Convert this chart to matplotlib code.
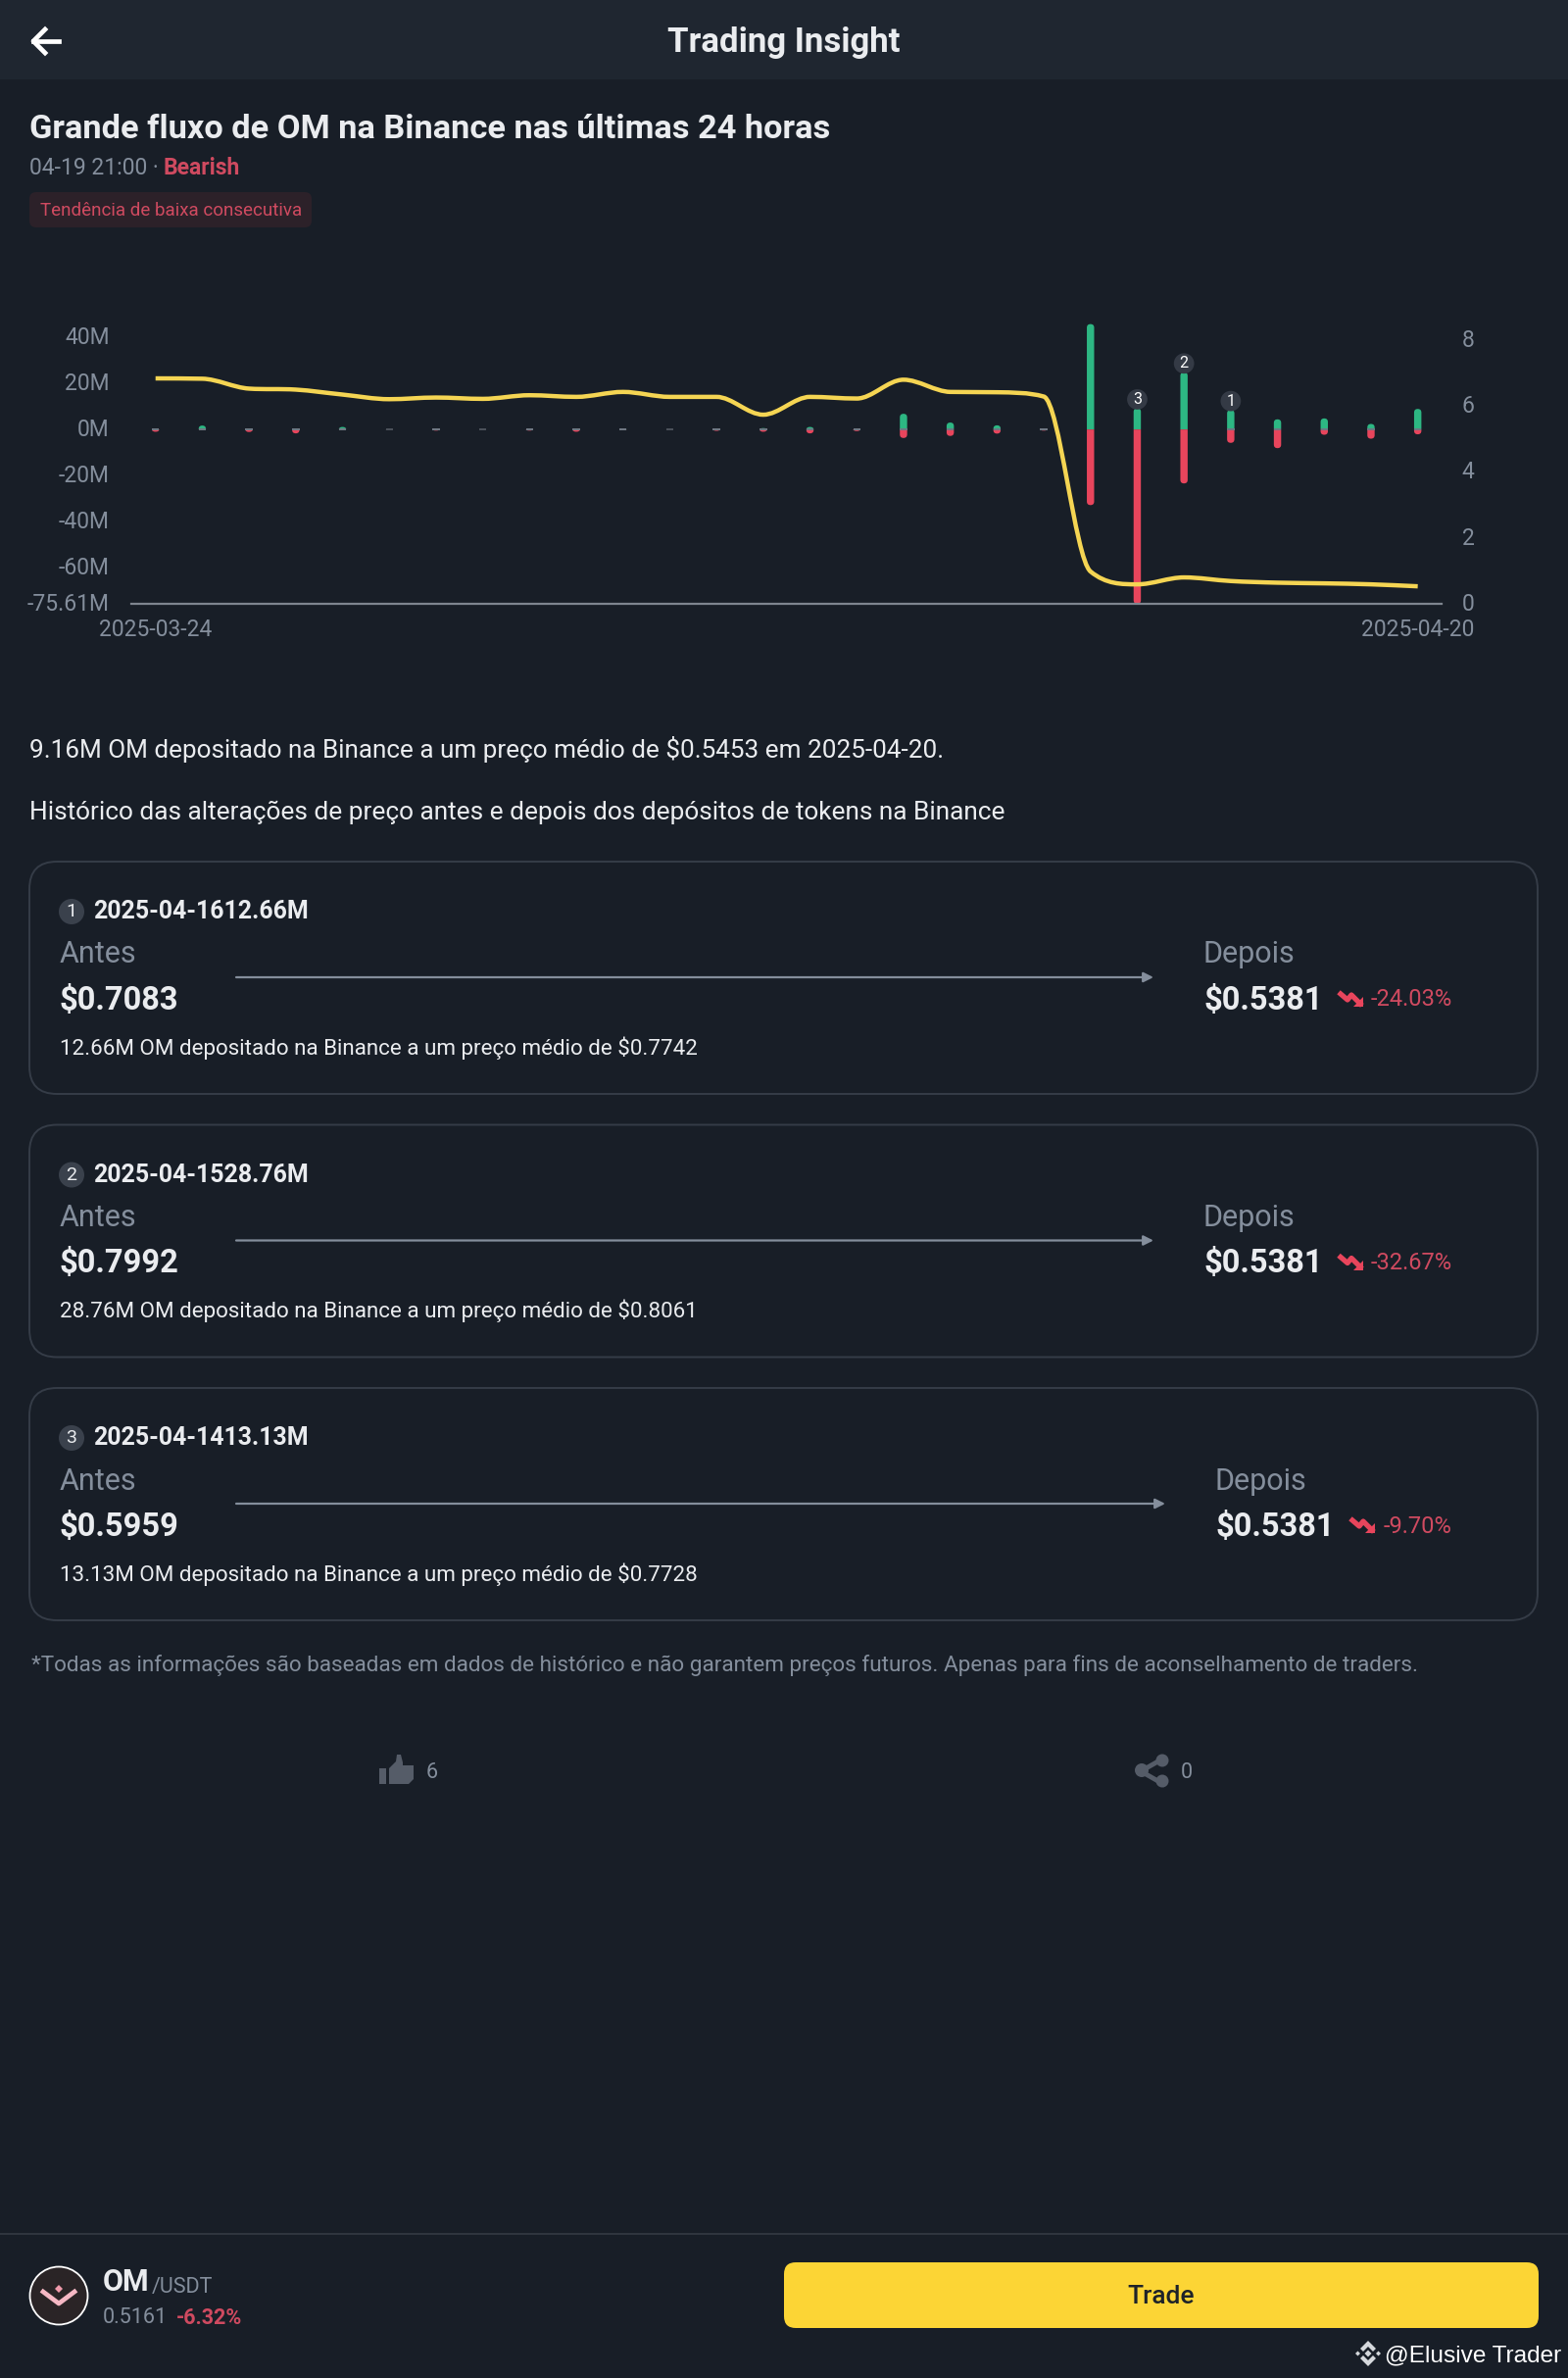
import numpy as np
import matplotlib
matplotlib.use("Agg")
import matplotlib.pyplot as plt
from matplotlib.patches import FancyBboxPatch, Circle, Polygon, PathPatch, FancyArrowPatch
from matplotlib.path import Path
from matplotlib.transforms import ScaledTranslation

plt.rcParams['font.family'] = ['Roboto', 'DejaVu Sans']

# dados (28 dias)
entradas = [0.1, 1.7, 0.2, 0.2, 1.1, 0.2, 0.1, 0.1, 0.1, 0.1, 0.4, 0.2, 0.4, 0.6,
            1.1, 0.2, 6.8, 3.0, 1.8, 0.1, 45.7, 9.2, 24.8, 8.5, 4.4, 4.8, 2.4, 8.9]
saidas = [1.0, 0.2, 1.1, 1.7, 0.2, 0.2, 0.5, 0.1, 0.5, 1.0, 0.3, 0.2, 0.6, 1.0,
          1.7, 0.7, 3.7, 2.8, 1.8, 0.5, 32.8, 75.61, 23.4, 5.8, 8.1, 2.3, 4.0, 2.1]
preco = [6.83, 6.82, 6.52, 6.49, 6.34, 6.20, 6.25, 6.21, 6.32, 6.27, 6.42, 6.27, 6.27, 5.73,
         6.27, 6.22, 6.79, 6.42, 6.41, 6.28, 0.98, 0.59, 0.80, 0.69, 0.64, 0.62, 0.59, 0.53]
ranks = {21: '3', 22: '2', 23: '1'}
yticks_esq = [40, 20, 0, -20, -40, -60, -75.61]
ylabels_esq = ['40M', '20M', '0M', '-20M', '-40M', '-60M', '-75.61M']
yticks_dir = [0, 2, 4, 6, 8]
datas = ['2025-03-24', '2025-04-20']

cards_titulo = ['2025-04-1612.66M', '2025-04-1528.76M', '2025-04-1413.13M']
cards_antes = ['$0.7083', '$0.7992', '$0.5959']
cards_depois = ['$0.5381', '$0.5381', '$0.5381']
cards_pct = ['-24.03%', '-32.67%', '-9.70%']
cards_desc = ['12.66M OM depositado na Binance a um preço médio de $0.7742',
              '28.76M OM depositado na Binance a um preço médio de $0.8061',
              '13.13M OM depositado na Binance a um preço médio de $0.7728']

BG = '#181E27'
HEADER = '#1F2630'
BORDA = '#353C47'
CINZA = '#848E9C'
BRANCO = '#EAECEF'
VERMELHO = '#E8455C'
VERMELHO_TXT = '#CF4A60'
VERDE = '#2DB783'
AMARELO = '#F5D553'

W, H = 1600, 2426
fig = plt.figure(figsize=(W / 100, H / 100), dpi=100, facecolor=BG)

# eixo de fundo em pixels para a parte de interface
ui = fig.add_axes([0, 0, 1, 1])
ui.set_xlim(0, W)
ui.set_ylim(H, 0)
ui.axis('off')


def txt(x, y, s, size, color=BRANCO, weight='normal', ha='left', **kw):
    return ui.text(x, y + 2, s, fontsize=size, color=color, weight=weight, ha=ha, va='center', **kw)


def caixa(x0, y0, x1, y1, r, fc, ec='none', lw=1.0):
    ui.add_patch(FancyBboxPatch((x0 + r, y0 + r), x1 - x0 - 2 * r, y1 - y0 - 2 * r,
                                boxstyle=f'round,pad={r},rounding_size={r}',
                                fc=fc, ec=ec, lw=lw))


def seta_baixa(x, y):
    # icone de tendencia de baixa
    ui.plot([x, x + 7, x + 11, x + 20], [y - 5, y + 1, y - 4, y + 5], color=VERMELHO, lw=3.8)
    ui.add_patch(Polygon([[x + 23, y - 2], [x + 23, y + 8], [x + 13, y + 8]], fc=VERMELHO))


# cabecalho
ui.add_patch(plt.Rectangle((0, 0), W, 81, fc=HEADER))
txt(800, 42, 'Trading Insight', 25, weight='bold', ha='center')
ui.plot([34, 60], [42, 42], color='white', lw=3.4)
ui.plot([46, 34, 46], [30, 42, 54], color='white', lw=3.4)

txt(30, 130, 'Grande fluxo de OM na Binance nas últimas 24 horas', 24.75, weight='bold')
txt(30, 170, '04-19 21:00 ·', 16.5, color=CINZA)
txt(167, 170, 'Bearish', 16.5, color=VERMELHO_TXT, weight='bold')
caixa(30, 196, 318, 232, 7, '#2C2129')
txt(41, 213, 'Tendência de baixa consecutiva', 13.5, color=VERMELHO_TXT)

txt(30, 763, '9.16M OM depositado na Binance a um preço médio de $0.5453 em 2025-04-20.', 18.85)
txt(30, 827, 'Histórico das alterações de preço antes e depois dos depósitos de tokens na Binance', 18.92)

# cards
for i in range(3):
    dy = i * 268.5
    dx = 12 if i == 2 else 0
    caixa(30, 879 + dy, 1569, 1116 + dy, 28, BG, ec=BORDA, lw=1.4)
    ui.add_patch(Circle((73, 930 + dy), 13, fc='#3A414C'))
    txt(73, 928 + dy, str(i + 1), 14, ha='center')
    txt(95, 928 + dy, cards_titulo[i], 17.9, weight='bold')
    txt(61, 972 + dy, 'Antes', 22, color=CINZA)
    txt(61, 1019 + dy, cards_antes[i], 23.5, weight='bold')
    ui.add_patch(FancyArrowPatch((241, 997 + dy), (1177 + dx, 997 + dy), arrowstyle='-|>',
                                 mutation_scale=15, color=CINZA, lw=1.6, shrinkA=0, shrinkB=0))
    txt(1228 + dx, 972 + dy, 'Depois', 22, color=CINZA)
    txt(1228 + dx, 1019 + dy, cards_depois[i], 23.5, weight='bold')
    seta_baixa(1368 + dx, 1019 + dy)
    txt(1482, 1018 + dy, cards_pct[i], 17, color=VERMELHO_TXT, ha='right')
    txt(61, 1067 + dy, cards_desc[i], 16.15)

txt(32, 1697, '*Todas as informações são baseadas em dados de histórico e não garantem preços futuros. '
    'Apenas para fins de aconselhamento de traders.', 16.2, color=CINZA)

# curtir e compartilhar
ICONE = '#555C68'
ui.add_patch(plt.Rectangle((387, 1804), 7, 16, fc=ICONE))
ui.add_patch(Polygon([[397, 1804], [404, 1797], [405, 1790], [409, 1790], [411, 1798], [411, 1801],
                      [422, 1801], [422, 1815], [417, 1820], [397, 1820]], fc=ICONE))
txt(435, 1806, '6', 15.5, color=CINZA)
ui.plot([1187, 1164, 1187], [1794, 1807, 1820], color=ICONE, lw=3.5)
for cx, cy, r in [(1186, 1796, 6.5), (1165, 1806, 7), (1186, 1817, 6.5)]:
    ui.add_patch(Circle((cx, cy), r, fc=ICONE))
txt(1205, 1806, '0', 15.5, color=CINZA)

# rodape
ui.plot([0, W], [2279, 2279], color='#30363F', lw=1.4)
ui.add_patch(Circle((60, 2342), 29.5, fc='#2A2426', ec='white', lw=1.3))
ui.plot([44, 60, 76], [2338, 2350, 2338], color='#F5B8C4', lw=3.4)
ui.add_patch(Polygon([[60, 2331], [64, 2335], [60, 2339], [56, 2335]], fc='#F09AAB'))
txt(105, 2326, 'OM', 22, weight='bold')
txt(155, 2331, '/USDT', 15.5, color=CINZA)
txt(105, 2363, '0.5161', 15.5, color=CINZA)
txt(180, 2363, '-6.32%', 15.5, color=VERMELHO_TXT, weight='bold')
caixa(800, 2308, 1570, 2375, 12, '#FCD535')
txt(1185, 2341, 'Trade', 19, color='#1E2329', weight='medium', ha='center')

# marca d'agua
cx, cy = 1396, 2401
cor_logo = '#D5D8DC'
for sinal in [1, -1]:
    ui.add_patch(Polygon([[cx, cy - 13 * sinal], [cx + 8, cy - 5 * sinal], [cx + 5, cy - 2 * sinal],
                          [cx, cy - 7 * sinal], [cx - 5, cy - 2 * sinal], [cx - 8, cy - 5 * sinal]], fc=cor_logo))
for mx, r in [(cx - 10.5, 2.5), (cx, 3.5), (cx + 10.5, 2.5)]:
    ui.add_patch(Polygon([[mx, cy - r], [mx + r, cy], [mx, cy + r], [mx - r, cy]], fc=cor_logo))
ui.text(1413, 2403, '@Elusive Trader', fontsize=17.6, color='white', family='Liberation Sans', va='center')

# grafico: posicao em pixels
x0_px, x1_px, base_px, topo_px = 134, 1471, 616, 330
ax = fig.add_axes([x0_px / W, 1 - base_px / H, (x1_px - x0_px) / W, (base_px - topo_px) / H])
ax.patch.set_alpha(0)
ax.set_xlim(-0.518, 27.51)
ax.set_ylim(-75.61, 45.97)
for lado in ['top', 'left', 'right']:
    ax.spines[lado].set_visible(False)
ax.spines['bottom'].set_color('#7E858F')
ax.spines['bottom'].set_linewidth(1.6)
ax.set_yticks(yticks_esq, ylabels_esq)
ax.set_xticks([0, len(preco) - 1], datas)
ax.tick_params(axis='y', length=0, pad=16, labelsize=16.5, labelcolor=CINZA)
ax.tick_params(axis='x', length=0, pad=11, labelsize=16.5, labelcolor=CINZA)

rx = 0.078
ry = 1.55


def barra(i, valor, cor):
    # barra com a ponta arredondada, em coordenadas de dados
    r = min(abs(valor), ry) * np.sign(valor)
    verts = [(i - rx, 0), (i - rx, valor - r), (i - rx, valor), (i, valor),
             (i + rx, valor), (i + rx, valor - r), (i + rx, 0), (i - rx, 0)]
    codes = [Path.MOVETO, Path.LINETO, Path.CURVE3, Path.CURVE3,
             Path.CURVE3, Path.CURVE3, Path.LINETO, Path.CLOSEPOLY]
    ax.add_patch(PathPatch(Path(verts, codes), fc=cor, ec='none', clip_on=False))


for i in range(len(preco)):
    barra(i, entradas[i], VERDE)
    barra(i, -saidas[i], VERMELHO)
    if entradas[i] < 10 and saidas[i] < 10:
        cor_meio = '#6F7782' if max(entradas[i], saidas[i]) > 0.3 else '#4A5059'
        ax.bar(i, 0.7, width=2 * rx, bottom=-0.25, color=cor_meio, zorder=2)

for i, s in ranks.items():
    ax.annotate(s, (i, entradas[i]), xytext=(0, 6.5), textcoords='offset points', ha='center', va='center',
                fontsize=11.5, color='white', zorder=5,
                bbox=dict(boxstyle='circle,pad=0.18', fc='#343A45', ec='none'))

# eixo direito com a linha de preco
ax2 = ax.twinx()
ax2.patch.set_alpha(0)
ax2.set_ylim(0, 8.494)
for lado in ['top', 'left', 'right', 'bottom']:
    ax2.spines[lado].set_visible(False)
ax2.set_yticks(yticks_dir, [str(v) for v in yticks_dir])
ax2.tick_params(axis='y', length=0, pad=15, labelsize=16.5, labelcolor=CINZA)

# sobe um pouco os rotulos dos eixos y
sobe = ScaledTranslation(0, 0.02, fig.dpi_scale_trans)
for rotulo in ax.get_yticklabels() + ax2.get_yticklabels():
    rotulo.set_transform(rotulo.get_transform() + sobe)

# curva monotona passando pelos 28 pontos
xp = np.arange(len(preco))
yp = np.array(preco)
sec = np.diff(yp)
tang = np.zeros(len(yp))
for k in range(1, len(yp) - 1):
    if sec[k - 1] * sec[k] > 0:
        tang[k] = np.sign(sec[k]) * min(3 * abs(sec[k - 1]), 3 * abs(sec[k]), 0.5 * abs(sec[k - 1] + sec[k]))
tang[0], tang[-1] = sec[0], sec[-1]
vx, vy, cd = [xp[0]], [yp[0]], [Path.MOVETO]
for k in range(len(sec)):
    vx += [xp[k] + 1 / 3, xp[k + 1] - 1 / 3, xp[k + 1]]
    vy += [yp[k] + tang[k] / 3, yp[k + 1] - tang[k + 1] / 3, yp[k + 1]]
    cd += [Path.CURVE4] * 3
ax2.add_patch(PathPatch(Path(np.column_stack([vx, vy]), cd), fc='none', ec=AMARELO, lw=3.2, capstyle='butt'))

fig.savefig('out.png', dpi=100, facecolor=BG)
